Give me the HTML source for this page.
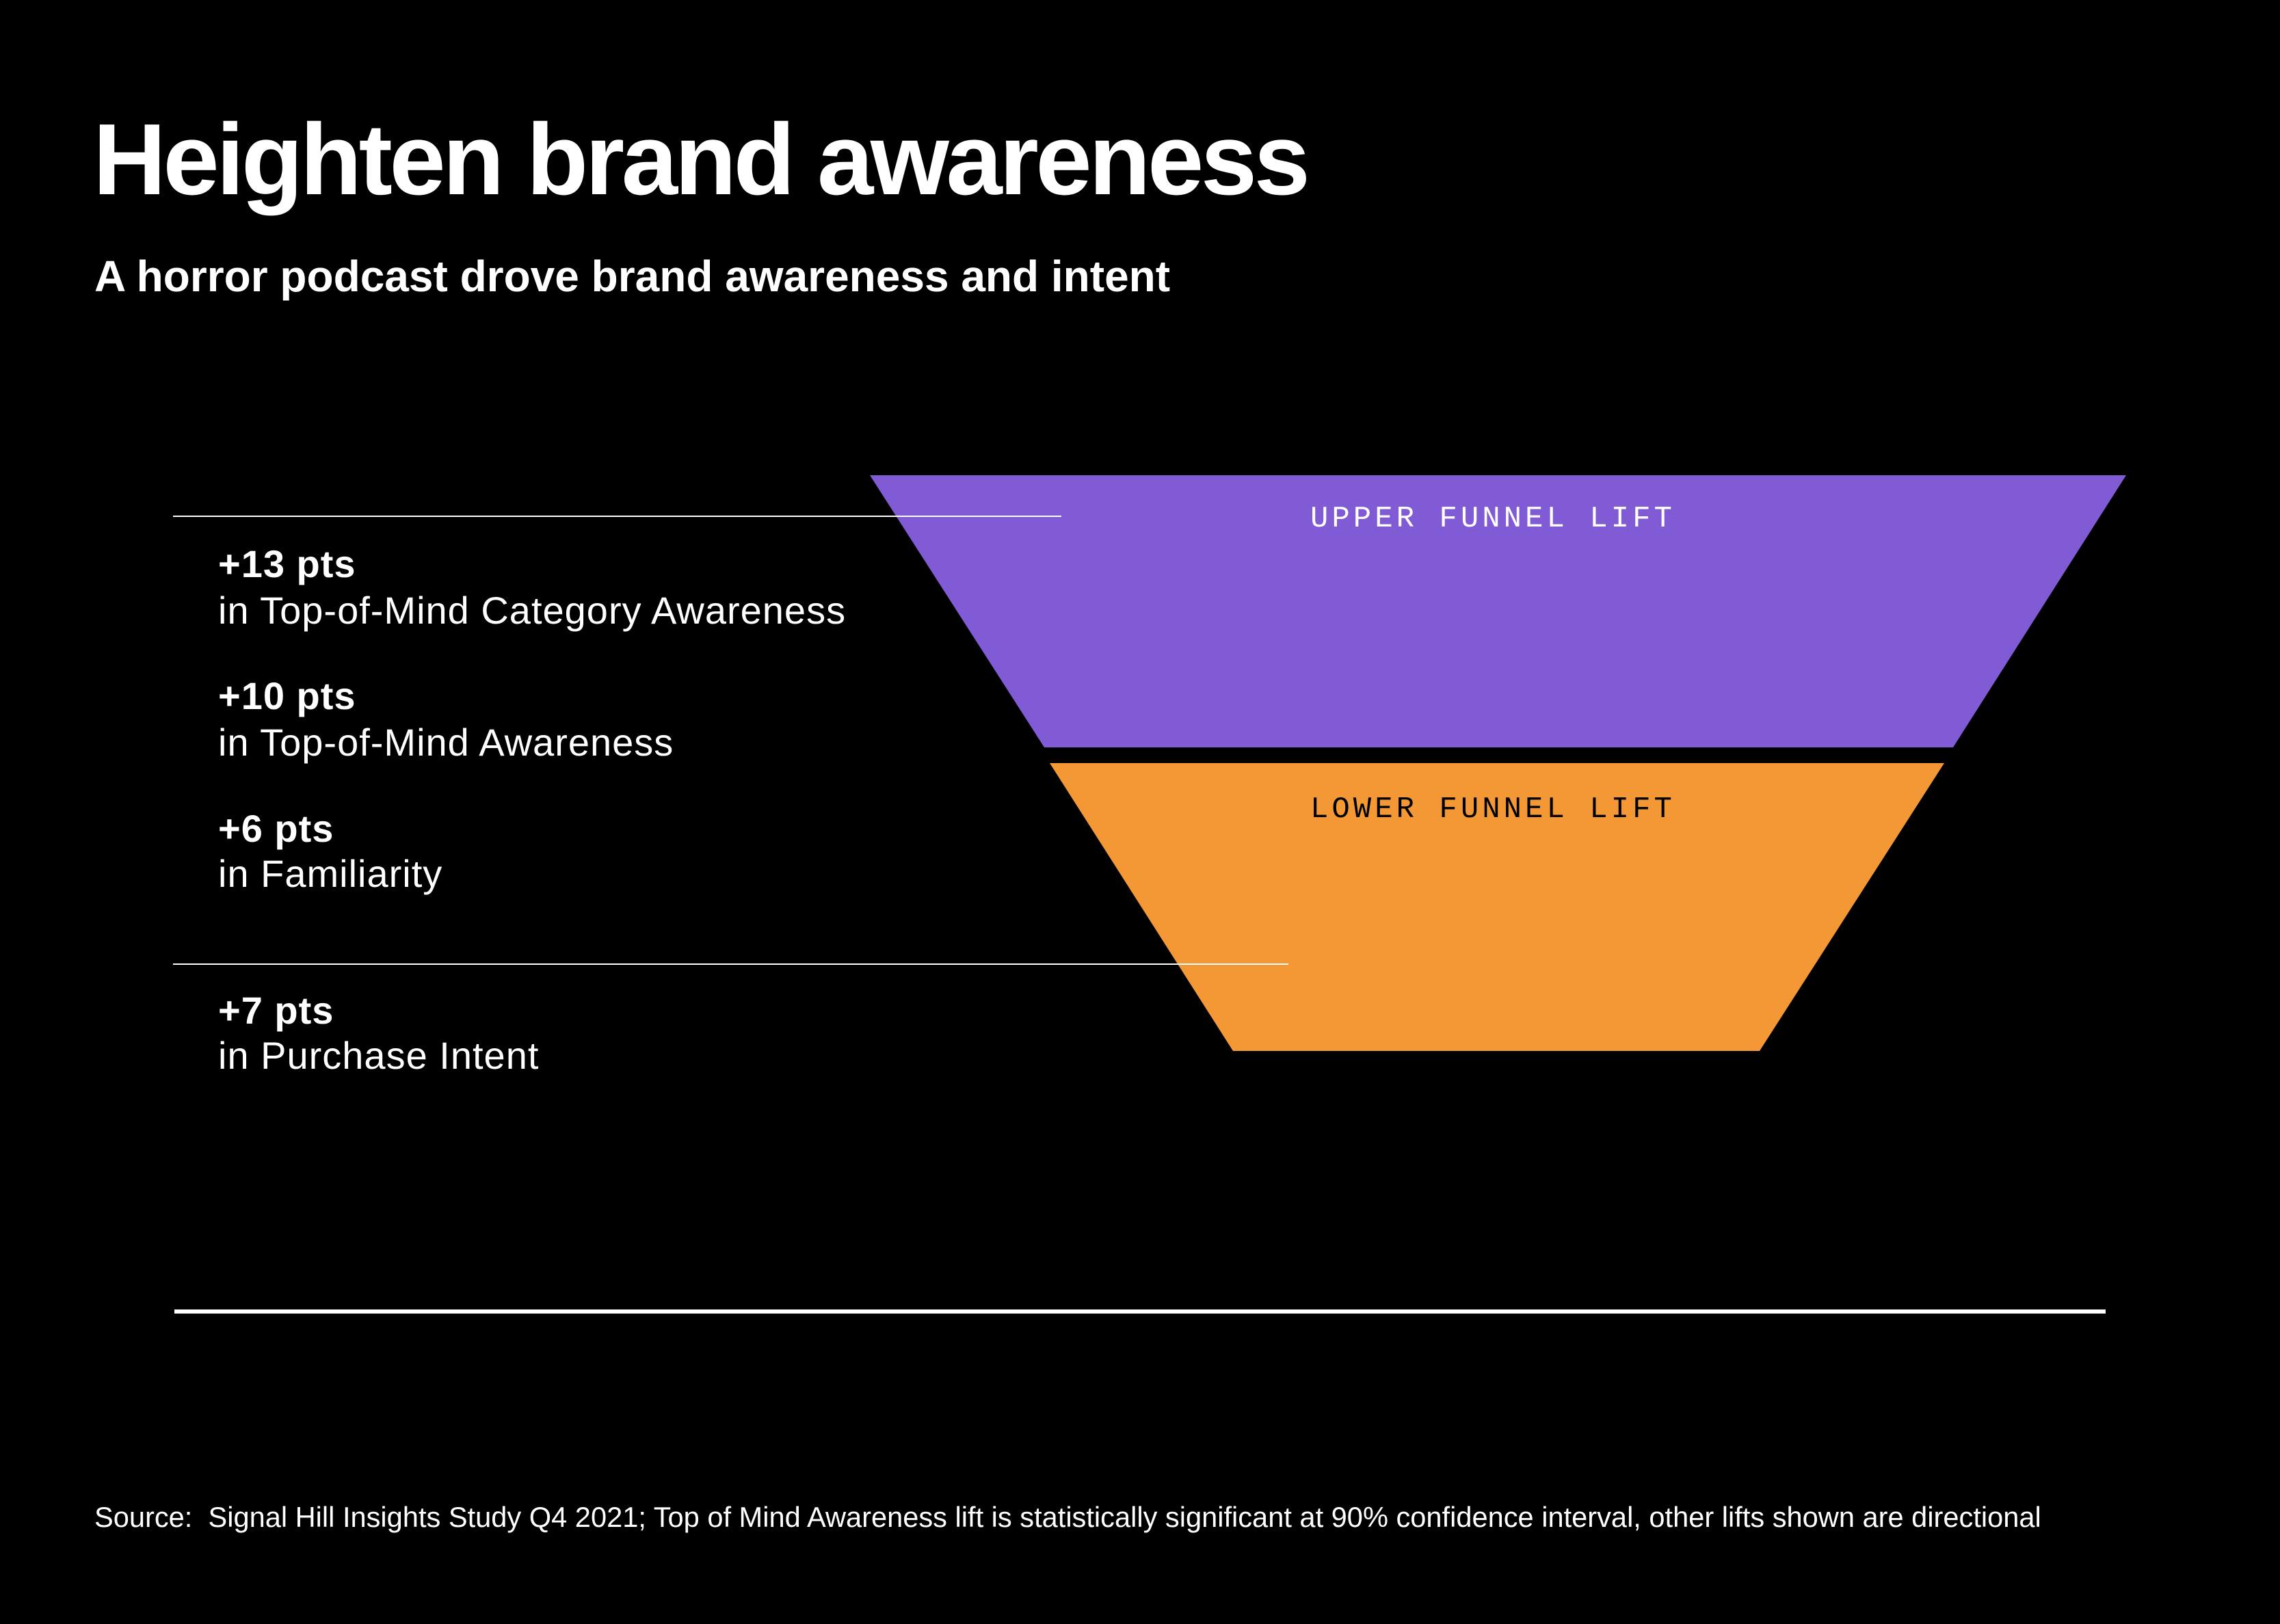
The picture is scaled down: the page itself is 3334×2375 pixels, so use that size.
<!DOCTYPE html>
<html><head><meta charset="utf-8"><style>
html,body{margin:0;padding:0;background:#000;}
body{width:3334px;height:2375px;position:relative;overflow:hidden;font-family:"Liberation Sans",sans-serif;color:#fff;}
.t{position:absolute;white-space:nowrap;}
.b{font-weight:bold;}
.m{font-family:"Liberation Mono",monospace;font-size:44px;letter-spacing:5px;line-height:44px;}
.s{font-size:56px;line-height:56px;letter-spacing:1px;}
</style></head><body>
<div class="t b" style="left:136px;top:160px;font-size:148px;line-height:148px;letter-spacing:-4.5px;">Heighten brand awareness</div>
<div class="t" style="left:138px;top:372px;font-size:64px;line-height:64px;font-weight:bold;letter-spacing:0px;">A horror podcast drove brand awareness and intent</div>
<svg style="position:absolute;left:0;top:0" width="3334" height="2375">
<polygon points="1272,695 3109,695 2856,1093 1527,1093" fill="#815AD5"/>
<polygon points="1535,1116 2843,1116 2573,1537 1803,1537" fill="#F49835"/>
<line x1="253" y1="755" x2="1552" y2="755" stroke="#fff" stroke-width="2"/>
<line x1="253" y1="1410" x2="1884" y2="1410" stroke="#fff" stroke-width="2"/>
<line x1="255" y1="1918" x2="3079" y2="1918" stroke="#fff" stroke-width="6"/>
</svg>
<div class="t m" style="left:1916px;top:737px;color:#fff;">UPPER FUNNEL LIFT</div>
<div class="t m" style="left:1916px;top:1162px;color:#000;">LOWER FUNNEL LIFT</div>
<div class="t s b" style="left:319px;top:797px;">+13 pts</div>
<div class="t s" style="left:319px;top:865px;">in Top-of-Mind Category Awareness</div>
<div class="t s b" style="left:319px;top:990px;">+10 pts</div>
<div class="t s" style="left:319px;top:1058px;">in Top-of-Mind Awareness</div>
<div class="t s b" style="left:319px;top:1184px;">+6 pts</div>
<div class="t s" style="left:319px;top:1250px;">in Familiarity</div>
<div class="t s b" style="left:319px;top:1450px;">+7 pts</div>
<div class="t s" style="left:319px;top:1516px;">in Purchase Intent</div>
<div class="t" style="left:138px;top:2198px;font-size:41.6px;line-height:42px;">Source:&nbsp; Signal Hill Insights Study Q4 2021; Top of Mind Awareness lift is statistically significant at 90% confidence interval, other lifts shown are directional</div>
</body></html>
